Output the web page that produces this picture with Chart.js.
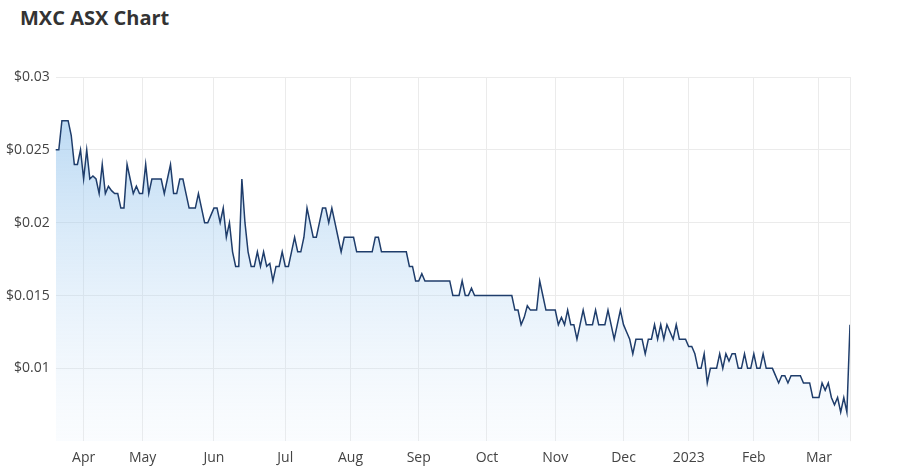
<!DOCTYPE html>
<html>
<head>
<meta charset="utf-8">
<script src="https://cdn.jsdelivr.net/npm/chart.js@4"></script>
<style>
  body { margin: 0; background: #fff; font-family: "Open Sans", sans-serif; }
  #title { position: absolute; left: 20px; top: 4px; font-size: 20px; font-weight: bold; color: #333; }
  #wrap { position: absolute; left: 0; top: 50px; width: 900px; height: 424px; }
</style>
</head>
<body>
<div id="title">MXC ASX Chart</div>
<div id="wrap"><canvas id="c"></canvas></div>
<script>
// monthly segments of daily closing prices (AUD)
const monthLabels = ['', 'Apr', 'May', '', 'Jun', 'Jul', 'Aug', 'Sep', 'Oct', 'Nov', 'Dec', '2023', 'Feb', 'Mar'];
const segments = [
  [0.025, 0.025, 0.027, 0.027, 0.027, 0.026, 0.024, 0.024, 0.025],
  [0.023, 0.025, 0.023, 0.0232, 0.023, 0.022, 0.024, 0.022, 0.0225, 0.0222, 0.022, 0.022, 0.021, 0.021, 0.024, 0.023, 0.022, 0.0225, 0.022],
  [0.022, 0.024, 0.022, 0.023, 0.023, 0.023, 0.023, 0.022, 0.023, 0.024, 0.022, 0.022, 0.023],
  [0.023, 0.022, 0.021, 0.021, 0.021, 0.022, 0.021, 0.020, 0.020, 0.0205],
  [0.021, 0.021, 0.020, 0.021, 0.019, 0.020, 0.018, 0.017, 0.017, 0.023, 0.020, 0.018, 0.017, 0.017, 0.018, 0.017, 0.018, 0.017, 0.0172, 0.016, 0.017, 0.017, 0.018],
  [0.017, 0.017, 0.018, 0.019, 0.018, 0.018, 0.019, 0.021, 0.020, 0.019, 0.019, 0.020, 0.021, 0.021, 0.020, 0.021, 0.020, 0.019, 0.018, 0.019, 0.019],
  [0.019, 0.019, 0.018, 0.018, 0.018, 0.018, 0.018, 0.018, 0.019, 0.019, 0.018, 0.018, 0.018, 0.018, 0.018, 0.018, 0.018, 0.018, 0.018, 0.017, 0.017, 0.016],
  [0.016, 0.0165, 0.016, 0.016, 0.016, 0.016, 0.016, 0.016, 0.016, 0.016, 0.016, 0.015, 0.015, 0.015, 0.016, 0.015, 0.015, 0.0155, 0.015, 0.015, 0.015, 0.015],
  [0.015, 0.015, 0.015, 0.015, 0.015, 0.015, 0.015, 0.015, 0.015, 0.014, 0.014, 0.013, 0.0135, 0.0143, 0.014, 0.014, 0.014, 0.016, 0.015, 0.014, 0.014, 0.014],
  [0.014, 0.013, 0.0135, 0.013, 0.014, 0.013, 0.013, 0.012, 0.013, 0.014, 0.013, 0.013, 0.013, 0.014, 0.013, 0.013, 0.013, 0.014, 0.013, 0.012, 0.013, 0.014],
  [0.013, 0.0125, 0.012, 0.011, 0.012, 0.012, 0.012, 0.011, 0.012, 0.012, 0.013, 0.012, 0.013, 0.012, 0.013, 0.0125, 0.012, 0.013, 0.012, 0.012, 0.012],
  [0.0115, 0.0115, 0.011, 0.010, 0.010, 0.011, 0.009, 0.010, 0.010, 0.010, 0.011, 0.010, 0.011, 0.0105, 0.011, 0.011, 0.010, 0.010, 0.011, 0.010, 0.010],
  [0.011, 0.010, 0.010, 0.011, 0.010, 0.010, 0.010, 0.0095, 0.009, 0.0095, 0.0095, 0.009, 0.0095, 0.0095, 0.0095, 0.0095, 0.009, 0.009, 0.009, 0.008, 0.008],
  [0.008, 0.009, 0.0085, 0.009, 0.008, 0.0075, 0.008, 0.007, 0.008, 0.007, 0.013]
];
const yTicks = [0.01, 0.015, 0.02, 0.025, 0.03];

const prices = [];
const labels = [];
segments.forEach((seg, m) => {
  seg.forEach((v, i) => {
    prices.push(v);
    labels.push(i === 0 ? monthLabels[m] : '');
  });
});

const ctx = document.getElementById('c').getContext('2d');
const grad = ctx.createLinearGradient(0, 27, 0, 390);
grad.addColorStop(0, 'rgba(110,175,230,0.55)');
grad.addColorStop(1, 'rgba(220,235,250,0.15)');

new Chart(ctx, {
  type: 'line',
  data: {
    labels: labels,
    datasets: [{
      data: prices,
      borderColor: '#1f3d6b',
      borderWidth: 1.5,
      backgroundColor: grad,
      fill: 'start',
      pointRadius: 0,
      tension: 0
    }]
  },
  options: {
    responsive: true,
    maintainAspectRatio: false,
    animation: false,
    layout: { padding: { left: 0, right: 50, top: 27, bottom: 0 } },
    plugins: { legend: { display: false }, tooltip: { enabled: false } },
    scales: {
      x: {
        offset: false,
        border: { display: false },
        grid: {
          color: c => labels[c.index] ? '#ebebeb' : 'rgba(0,0,0,0)',
          drawTicks: false
        },
        ticks: {
          autoSkip: false, maxRotation: 0, padding: 8,
          color: '#444', font: { family: 'Open Sans', size: 14 },
          callback: (v, i) => labels[i]
        }
      },
      y: {
        min: 0.005, max: 0.03,
        border: { display: false },
        afterBuildTicks: s => { s.ticks = yTicks.map(v => ({ value: v })); },
        grid: { color: '#ebebeb', drawTicks: false },
        ticks: {
          padding: 6, color: '#444', font: { family: 'Open Sans', size: 14 },
          callback: v => '$' + parseFloat(v.toFixed(3))
        }
      }
    }
  },
  plugins: [{
    id: 'rightEdge',
    afterDraw(chart) {
      const a = chart.chartArea, c = chart.ctx;
      c.save(); c.strokeStyle = '#ebebeb'; c.lineWidth = 1;
      c.beginPath(); c.moveTo(a.right + 0.5, a.top); c.lineTo(a.right + 0.5, a.bottom); c.stroke();
      c.restore();
    }
  }]
});
</script>
</body>
</html>
